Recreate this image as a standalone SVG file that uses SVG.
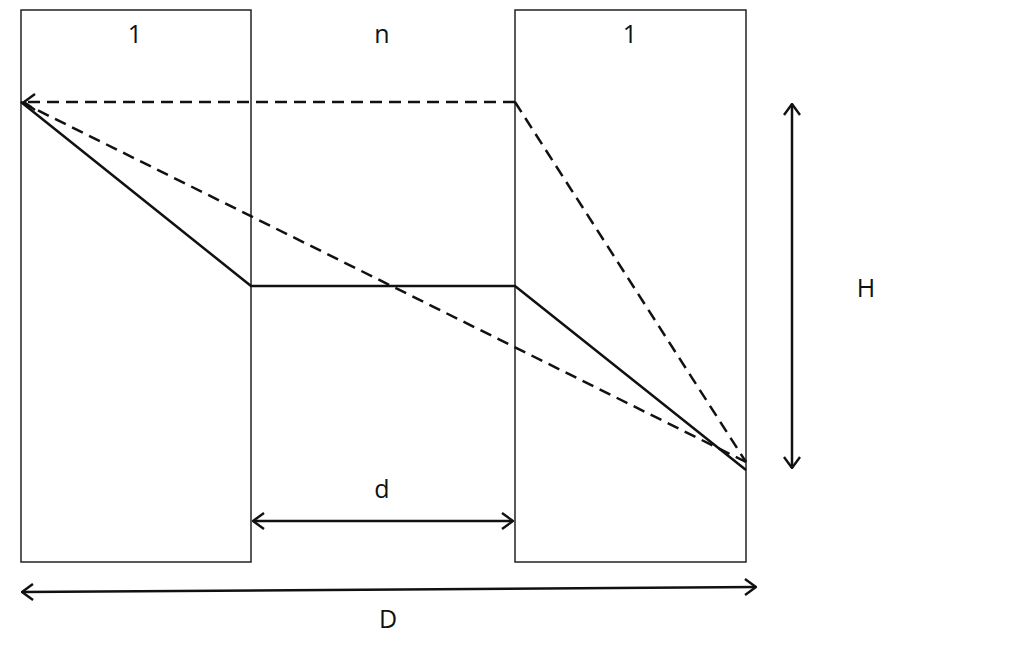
<svg xmlns="http://www.w3.org/2000/svg" width="1024" height="653" viewBox="0 0 1024 653">
<style>
.box{fill:none;stroke:#222;stroke-width:1.5}
.solid{fill:none;stroke:#111;stroke-width:2.5;stroke-linejoin:miter}
.dash{fill:none;stroke:#111;stroke-width:2.5;stroke-dasharray:12,7}
.dim{fill:none;stroke:#111;stroke-width:2.5}
.t{font-family:"Open Sans","Liberation Sans",sans-serif;font-size:25px;fill:#111;text-anchor:middle}
</style>
<defs>
<marker id="ah" viewBox="0 0 13 18" refX="12" refY="9" markerWidth="13" markerHeight="18" markerUnits="userSpaceOnUse" orient="auto-start-reverse">
<path d="M1,1 L12,9 L1,17" fill="none" stroke="#111" stroke-width="2.4"/>
</marker>
</defs>
<g id="node-left">
<rect class="box" x="21" y="10" width="230" height="552"/>
<text class="t" x="135" y="43">1</text>
</g>
<g id="node-middle">
<text class="t" x="382" y="43">n</text>
</g>
<g id="node-right">
<rect class="box" x="515" y="10" width="231" height="552"/>
<text class="t" x="630" y="43">1</text>
</g>
<g id="connectors">
<polyline class="solid" points="21,102 251,286 515,286 746,470"/>
<line class="dash" x1="515" y1="102" x2="24" y2="102" marker-end="url(#ah)"/>
<line class="dash" x1="515" y1="102" x2="746" y2="462"/>
<line class="dash" x1="21" y1="102" x2="746" y2="462"/>
<line class="dim" x1="792" y1="104" x2="792" y2="468" marker-start="url(#ah)" marker-end="url(#ah)"/>
<line class="dim" x1="253" y1="521" x2="513" y2="521" marker-start="url(#ah)" marker-end="url(#ah)"/>
<line class="dim" x1="22" y1="592" x2="756" y2="587" marker-start="url(#ah)" marker-end="url(#ah)"/>
</g>
<g id="labels">
<text class="t" x="866" y="297">H</text>
<text class="t" x="382" y="498">d</text>
<text class="t" x="388" y="628">D</text>
</g>
</svg>
